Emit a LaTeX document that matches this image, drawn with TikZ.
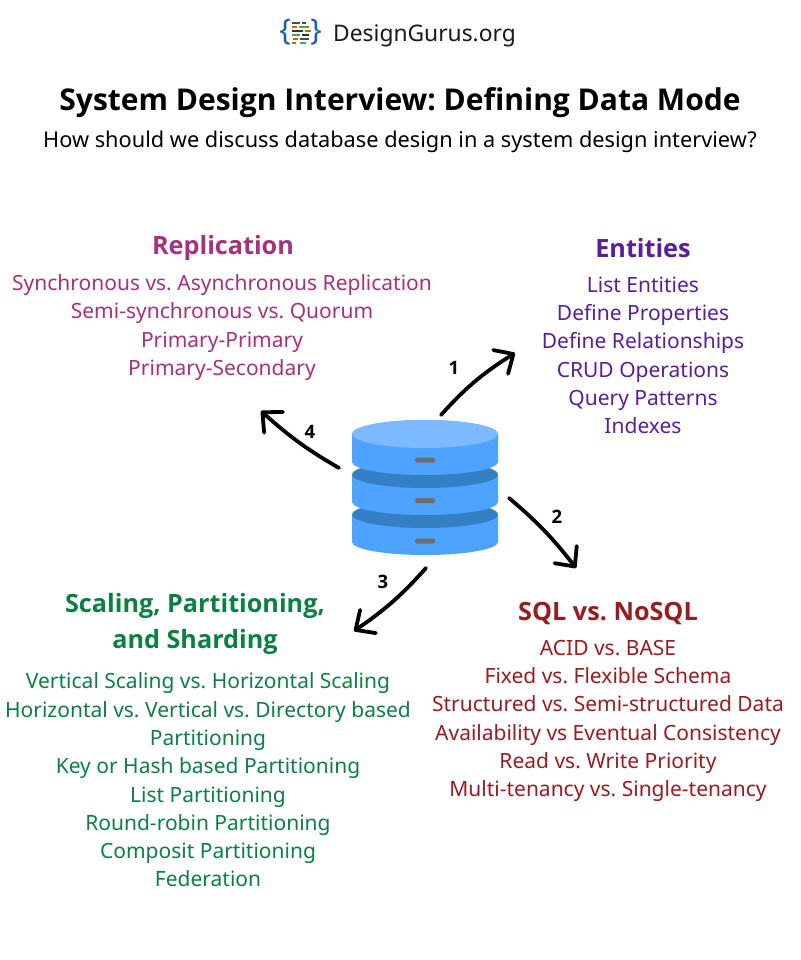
\documentclass[tikz,border=0pt]{standalone}
\usepackage{fontspec}
\setmainfont{Noto Sans}
\newfontfamily\hvy{Open Sans}
\usetikzlibrary{arrows.meta,bending}
\definecolor{repc}{HTML}{A8307F}
\definecolor{entc}{HTML}{5A1E9B}
\definecolor{sqlc}{HTML}{9A1B20}
\definecolor{scac}{HTML}{0B8043}
\definecolor{dbtop}{HTML}{7DB9FF}
\definecolor{dbmid}{HTML}{4DA3FF}
\definecolor{dbdark}{HTML}{357FC4}
\definecolor{slot}{HTML}{6E6E6E}
\definecolor{brace}{HTML}{1F5FA8}
\tikzset{
  x=1pt,y=-1pt,
  listtext/.style={align=center,inner sep=0pt,font=\frenchspacing\fontsize{21}{28.3}\selectfont},
  headtext/.style={align=center,inner sep=0pt,font=\frenchspacing\hvy\bfseries\fontsize{25.2}{36}\selectfont},
  flow/.style={line width=3.8pt,line cap=round,-{Straight Barb[length=15pt,width=28pt,line width=3.8pt,round,flex]}},
  num/.style={inner sep=0pt,font=\hvy\bfseries\fontsize{18.5}{20}\selectfont},
  dbdisk/.style={fill=#1,draw=none},
  slotbar/.style={fill=slot,rounded corners=1.5pt,draw=none},
  codeline/.style={line width=1.2pt},
}
\begin{document}
\begin{tikzpicture}
\useasboundingbox (0,0) rectangle (800,960);
\fill[white] (0,0) rectangle (800,960);
% logo
\node[inner sep=0pt,text=brace,font=\fontsize{30}{32}\selectfont] (bl) at (285,32) {\{};
\node[inner sep=0pt,text=brace,font=\fontsize{30}{32}\selectfont] (br) at (316,32) {\}};
\draw[codeline,black!70] (292,23) -- (300,23) (302,23) -- (306,23);
\draw[codeline,orange!80!black] (292,27) -- (297,27);
\draw[codeline,green!50!black!70] (299,27) -- (309,27);
\draw[codeline,black!80] (292,31) -- (303,31);
\draw[codeline,orange!80!black] (305,31) -- (311,31);
\draw[codeline,green!50!black!70] (292,35) -- (300,35);
\draw[codeline,black!80] (302,35) -- (309,35);
\draw[codeline,orange!80!black] (293,39) -- (298,39);
\draw[codeline,green!50!black!70] (300,43) -- (306,43);
\draw[codeline,orange!80!black] (292,43) -- (296,43);
\draw[codeline,black!70] (300,39) -- (309,39);
\node[anchor=west,inner sep=0pt,font=\fontsize{22.8}{30}\selectfont,text=black!90] (brand) at (333,36) {DesignGurus.org};
% titles
\node[inner sep=0pt,font=\frenchspacing\hvy\bfseries\fontsize{30}{36}\selectfont] (title) at (400,103) {System Design Interview: Defining Data Mode};
\node[inner sep=0pt,font=\frenchspacing\fontsize{21.75}{28}\selectfont] (subtitle) at (400,142) {How should we discuss database design in a system design interview?};
% database
\path[dbdisk=dbmid] (352,515) -- (352,542) arc[start angle=180,end angle=360,x radius=73,y radius=-13] -- (498,515) arc[start angle=0,end angle=180,x radius=73,y radius=-13] -- cycle;
\path[dbdisk=dbdark] (425,514.5) ellipse[x radius=73,y radius=13.5];
\path[dbdisk=dbmid] (352,475) -- (352,502) arc[start angle=180,end angle=360,x radius=73,y radius=-13] -- (498,475) arc[start angle=0,end angle=180,x radius=73,y radius=-13] -- cycle;
\path[dbdisk=dbdark] (425,474.5) ellipse[x radius=73,y radius=13.5];
\path[dbdisk=dbmid] (352,434) -- (352,462) arc[start angle=180,end angle=360,x radius=73,y radius=-13] -- (498,434) arc[start angle=0,end angle=180,x radius=73,y radius=-14] -- cycle;
\path[dbdisk=dbtop] (425,434) ellipse[x radius=73,y radius=14];
\path[slotbar] (415,457.5) rectangle (435,462.5);
\path[slotbar] (415,498) rectangle (435,503);
\path[slotbar] (415,538.5) rectangle (435,543.5);
% sections
\node[headtext,text=repc] (rephead) at (223,248) {Replication};
\node[listtext,text=repc] (replist) at (222,327.5) {Synchronous vs. Asynchronous Replication\\Semi-synchronous vs. Quorum\\Primary-Primary\\Primary-Secondary};
\node[headtext,text=entc] (enthead) at (643,248.5) {Entities};
\node[listtext,text=entc] (entlist) at (643,355.5) {List Entities\\Define Properties\\Define Relationships\\CRUD Operations\\Query Patterns\\Indexes};
\node[headtext,text=sqlc] (sqlhead) at (608,613) {SQL vs. NoSQL};
\node[listtext,text=sqlc] (sqllist) at (608,721) {ACID vs. BASE\\Fixed vs. Flexible Schema\\Structured vs. Semi-structured Data\\Availability vs Eventual Consistency\\Read vs. Write Priority\\Multi-tenancy vs. Single-tenancy};
\node[headtext,text=scac] (scahead) at (195,624) {Scaling, Partitioning,\\and Sharding};
\node[listtext,text=scac] (scalist) at (208,780) {Vertical Scaling vs. Horizontal Scaling\\Horizontal vs. Vertical vs. Directory based\\Partitioning\\Key or Hash based Partitioning\\List Partitioning\\Round-robin Partitioning\\Composit Partitioning\\Federation};
% connectors
\coordinate (s1) at (441,415); \coordinate (e1) at (515,353);
\coordinate (s2) at (509,498); \coordinate (e2) at (576,568);
\coordinate (s3) at (426,568); \coordinate (e3) at (354,631);
\coordinate (s4) at (339,468); \coordinate (e4) at (261,411);
\draw[flow] (s1) to[bend left=8] (e1);
\draw[flow] (s2) to[bend left=6] (e2);
\draw[flow] (s3) to[bend left=7] (e3);
\draw[flow] (s4) to[bend left=6] (e4);
\node[num] (n1) at (454,368) {1};
\node[num] (n2) at (557,517) {2};
\node[num] (n3) at (383,582) {3};
\node[num] (n4) at (310,432) {4};
\end{tikzpicture}
\end{document}
